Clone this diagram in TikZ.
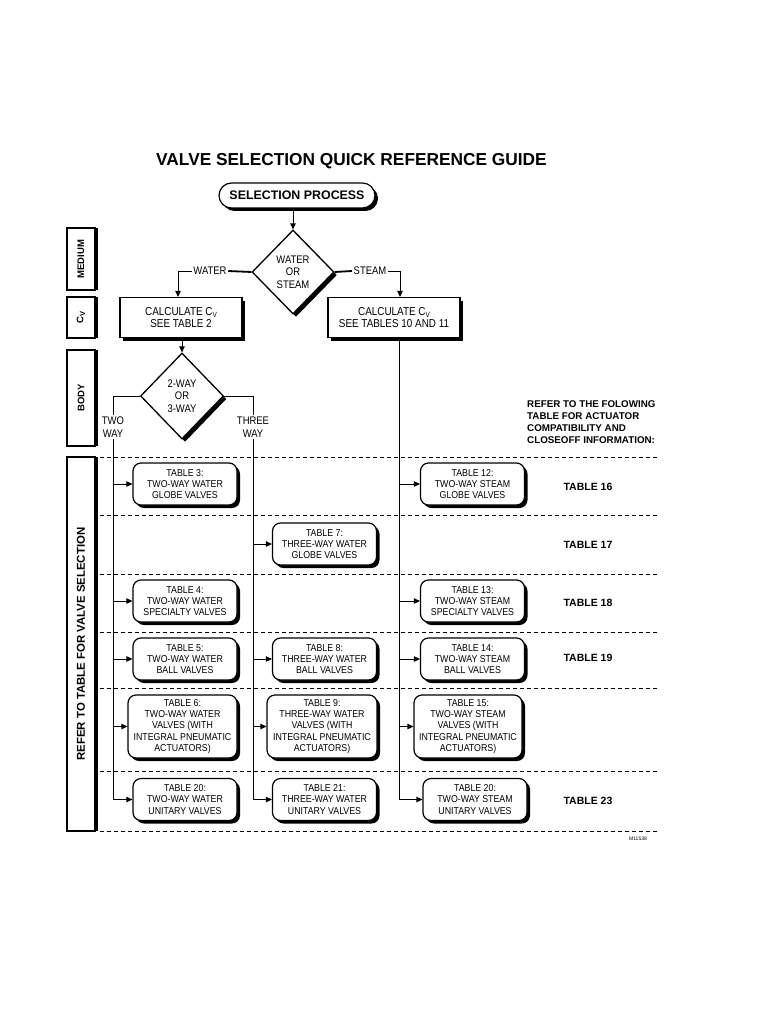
\documentclass[tikz,border=0pt]{standalone}
\usepackage{fontspec}
\setmainfont{Liberation Sans}
\newfontfamily\narS[FakeStretch=0.88]{Liberation Sans}
\newfontfamily\narM[FakeStretch=0.86]{Liberation Sans}
\usetikzlibrary{arrows.meta,shapes.geometric,shadows}
\newcommand{\CvSub}{C\raisebox{-0.35ex}{\fontsize{7.5}{7.5}\selectfont V}}
\begin{document}
\begin{tikzpicture}[x=1pt,y=-1pt,
  shad/.style={drop shadow={shadow xshift=3pt,shadow yshift=-3pt,opacity=1,fill=black}},
  tbox/.style={draw,line width=1.2pt,rounded corners=8pt,fill=white,align=center,
    font=\narS\fontsize{10}{11.2}\selectfont,shad,minimum width=104pt,minimum height=42pt,inner sep=0pt},
  tbig/.style={tbox,minimum width=109pt,minimum height=63pt},
  cvbox/.style={draw,line width=1.2pt,fill=white,align=center,
    font=\narM\fontsize{11.5}{12.5}\selectfont,shad,minimum height=40pt,inner sep=0pt},
  dia/.style={diamond,draw,line width=1.3pt,fill=white,align=center,inner sep=0pt,
    font=\narM\fontsize{11}{12.5}\selectfont,shad},
  sidebox/.style={draw,line width=1.2pt,fill=white,minimum width=28pt,inner sep=0pt,
    font=\bfseries\fontsize{9.5}{10}\selectfont,
    drop shadow={shadow xshift=3pt,shadow yshift=0pt,opacity=1,fill=black}},
  conn/.style={line width=0.9pt},
  arr/.style={conn,-{Triangle[length=6pt,width=5.5pt]}},
  lbl/.style={fill=white,inner sep=1.5pt,font=\narM\fontsize{11}{12.5}\selectfont,align=center},
  lbltwo/.style={fill=white,inner sep=1.5pt,font=\narM\fontsize{11}{12.5}\selectfont,align=center},
  tlab/.style={font=\bfseries\fontsize{10.5}{12}\selectfont},
  sep/.style={line width=0.9pt,dash pattern=on 4pt off 3pt}
]
\useasboundingbox (0,0) rectangle (768,1024);

% title
\node[font=\bfseries\fontsize{17.3}{20}\selectfont] (title) at (351.5,161) {VALVE SELECTION QUICK REFERENCE GUIDE};

% start
\node[draw,line width=1.2pt,fill=white,rounded corners=12.5pt,shad,minimum width=156pt,minimum height=25pt,
  inner sep=0pt,font=\bfseries\fontsize{12.4}{14}\selectfont] (sel) at (297,195.5) {SELECTION PROCESS};

% side labels
\node[sidebox,minimum height=62pt] (sMed) at (81,259) {\rotatebox{90}{MEDIUM}};
\node[sidebox,minimum height=41pt] (sCv) at (81,317.5) {\rotatebox{90}{\CvSub}};
\node[sidebox,minimum height=96pt] (sBody) at (81,398) {\rotatebox{90}{BODY}};
\node[sidebox,minimum height=374pt,font=\bfseries\fontsize{11.4}{12}\selectfont] (sRef) at (81,644)
  {\rotatebox{90}{REFER TO TABLE FOR VALVE SELECTION}};

% medium diamond
\node[dia,minimum width=82pt,minimum height=84pt] (wd) at (293,272) {WATER\\OR\\STEAM};
\draw[arr] (wd.north |- sel.south) -- (wd.north);

% Cv boxes
\node[cvbox,minimum width=122pt] (cvL) at (181,317.5) {CALCULATE \CvSub\\SEE TABLE 2};
\node[cvbox,minimum width=132pt] (cvR) at (394,317.5) {CALCULATE \CvSub\\SEE TABLES 10 AND 11};

\node[lbl] (wlab) at (210,271) {WATER};
\node[lbl] (slab) at (370,271) {STEAM};
\draw[line width=1.8pt] (wd.west) -- (wlab.east);
\draw[line width=1.8pt] (wd.east) -- (slab.west);
\draw[arr] (wlab.west) -| ([xshift=-3pt]cvL.north);
\draw[arr] (slab.east) -| ([xshift=6pt]cvR.north);

% body diamond
\node[dia,minimum width=83pt,minimum height=86pt] (bd) at (182,396) {2-WAY\\OR\\3-WAY};
\draw[arr] (bd.north |- cvL.south) -- (bd.north);

\node[lbltwo] (twl) at (113,427) {TWO\\WAY};
\node[lbltwo] (thl) at (253,427) {THREE\\WAY};
\draw[conn] (bd.west) -| (twl.north);
\draw[conn] (bd.east) -| (thl.north);

% refer note
\node[anchor=north west,align=left,inner sep=0pt,font=\bfseries\fontsize{9.8}{12}\selectfont] (note) at (527,400)
  {REFER TO THE FOLOWING\\TABLE FOR ACTUATOR\\COMPATIBILITY AND\\CLOSEOFF INFORMATION:};

% separators
\foreach \yy in {457,515,574,632,688,771,831}{
  \draw[sep] (100,\yy) -- (657,\yy);
}

% table boxes
\node[tbox] (t3) at (185,484) {TABLE 3:\\TWO-WAY WATER\\GLOBE VALVES};
\node[tbox] (t12) at (472.5,484) {TABLE 12:\\TWO-WAY STEAM\\GLOBE VALVES};
\node[tbox] (t7) at (324.5,544) {TABLE 7:\\THREE-WAY WATER\\GLOBE VALVES};
\node[tbox] (t4) at (185,601) {TABLE 4:\\TWO-WAY WATER\\SPECIALTY VALVES};
\node[tbox] (t13) at (472.5,601) {TABLE 13:\\TWO-WAY STEAM\\SPECIALTY VALVES};
\node[tbox] (t5) at (185,659) {TABLE 5:\\TWO-WAY WATER\\BALL VALVES};
\node[tbox] (t8) at (324.5,659) {TABLE 8:\\THREE-WAY WATER\\BALL VALVES};
\node[tbox] (t14) at (472.5,659) {TABLE 14:\\TWO-WAY STEAM\\BALL VALVES};
\node[tbig] (t6) at (182.5,726.5) {TABLE 6:\\TWO-WAY WATER\\VALVES (WITH\\INTEGRAL PNEUMATIC\\ACTUATORS)};
\node[tbig,minimum width=110pt] (t9) at (322,726.5) {TABLE 9:\\THREE-WAY WATER\\VALVES (WITH\\INTEGRAL PNEUMATIC\\ACTUATORS)};
\node[tbig,minimum width=108pt] (t15) at (468,726.5) {TABLE 15:\\TWO-WAY STEAM\\VALVES (WITH\\INTEGRAL PNEUMATIC\\ACTUATORS)};
\node[tbox] (t20a) at (185,799.5) {TABLE 20:\\TWO-WAY WATER\\UNITARY VALVES};
\node[tbox] (t21) at (324.5,799.5) {TABLE 21:\\THREE-WAY WATER\\UNITARY VALVES};
\node[tbox] (t20b) at (475,799.5) {TABLE 20:\\TWO-WAY STEAM\\UNITARY VALVES};

% trunks
\draw[arr] (twl.south) |- (t20a.west);
\draw[arr] (thl.south) |- (t21.west);
\coordinate (sx) at ([xshift=5pt]cvR.south);
\draw[arr] (sx) |- (t20b.west);

% branches
\foreach \t in {t3,t4,t5,t6}{ \draw[arr] (\t.west -| twl.south) -- (\t.west); }
\foreach \t in {t7,t8,t9}{ \draw[arr] (\t.west -| thl.south) -- (\t.west); }
\foreach \t in {t12,t13,t14,t15}{ \draw[arr] (\t.west -| sx) -- (\t.west); }

% right labels
\node[tlab] (l16) at (588,487) {TABLE 16};
\node[tlab] (l17) at (588,545) {TABLE 17};
\node[tlab] (l18) at (588,603) {TABLE 18};
\node[tlab] (l19) at (588,658) {TABLE 19};
\node[tlab] (l23) at (588,801) {TABLE 23};

\node[font=\fontsize{5}{5}\selectfont,inner sep=0pt] (mark) at (638,839) {M11538};
\end{tikzpicture}
\end{document}
